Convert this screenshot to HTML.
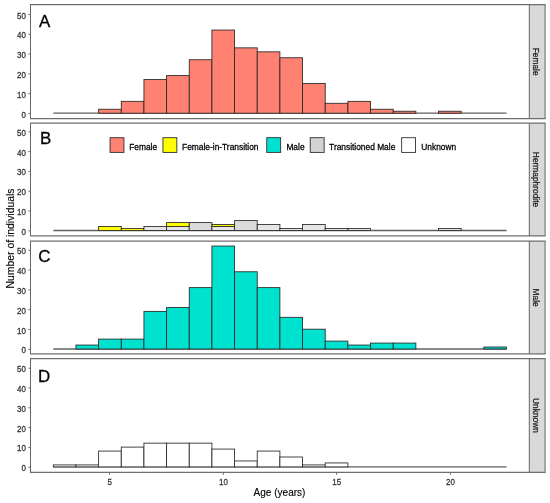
<!DOCTYPE html>
<html lang="en"><head><meta charset="utf-8"><title>Age distribution by sex</title>
<style>html,body{margin:0;padding:0;background:#fff}svg{display:block}</style></head>
<body>
<svg width="550" height="503" viewBox="0 0 550 503" font-family="'Liberation Sans', Arial, sans-serif">
<rect width="550" height="503" fill="#fff"/>
<line x1="53.30" x2="506.50" y1="113.2" y2="113.2" stroke="#606060" stroke-width="1.3"/>
<rect x="98.62" y="109.24" width="22.66" height="3.96" fill="#FF8172" stroke="#262626" stroke-width="0.85"/>
<rect x="121.28" y="101.32" width="22.66" height="11.88" fill="#FF8172" stroke="#262626" stroke-width="0.85"/>
<rect x="143.94" y="79.54" width="22.66" height="33.66" fill="#FF8172" stroke="#262626" stroke-width="0.85"/>
<rect x="166.60" y="75.58" width="22.66" height="37.62" fill="#FF8172" stroke="#262626" stroke-width="0.85"/>
<rect x="189.26" y="59.74" width="22.66" height="53.46" fill="#FF8172" stroke="#262626" stroke-width="0.85"/>
<rect x="211.92" y="30.04" width="22.66" height="83.16" fill="#FF8172" stroke="#262626" stroke-width="0.85"/>
<rect x="234.58" y="47.86" width="22.66" height="65.34" fill="#FF8172" stroke="#262626" stroke-width="0.85"/>
<rect x="257.24" y="51.82" width="22.66" height="61.38" fill="#FF8172" stroke="#262626" stroke-width="0.85"/>
<rect x="279.90" y="57.76" width="22.66" height="55.44" fill="#FF8172" stroke="#262626" stroke-width="0.85"/>
<rect x="302.56" y="83.50" width="22.66" height="29.70" fill="#FF8172" stroke="#262626" stroke-width="0.85"/>
<rect x="325.22" y="103.30" width="22.66" height="9.90" fill="#FF8172" stroke="#262626" stroke-width="0.85"/>
<rect x="347.88" y="101.32" width="22.66" height="11.88" fill="#FF8172" stroke="#262626" stroke-width="0.85"/>
<rect x="370.54" y="109.24" width="22.66" height="3.96" fill="#FF8172" stroke="#262626" stroke-width="0.85"/>
<rect x="393.20" y="111.22" width="22.66" height="1.98" fill="#FF8172" stroke="#262626" stroke-width="0.85"/>
<rect x="438.52" y="111.22" width="22.66" height="1.98" fill="#FF8172" stroke="#262626" stroke-width="0.85"/>
<rect x="529.3" y="4.7" width="15.80" height="113.90" fill="#D9D9D9"/>
<line x1="30.0" x2="545.6" y1="4.7" y2="4.7" stroke="#6e6e6e" stroke-width="1.3"/>
<line x1="30.0" x2="545.6" y1="118.6" y2="118.6" stroke="#6e6e6e" stroke-width="1.3"/>
<line x1="30.5" x2="30.5" y1="4.7" y2="118.6" stroke="#666" stroke-width="1"/>
<line x1="529.3" x2="529.3" y1="4.7" y2="118.6" stroke="#666" stroke-width="1"/>
<line x1="545.1" x2="545.1" y1="4.7" y2="118.6" stroke="#666" stroke-width="1"/>
<text transform="translate(533.00,61.65) rotate(90) scale(0.872,1)" text-anchor="middle" font-size="9.6" fill="#1a1a1a" stroke="#1a1a1a" stroke-width="0.25">Female</text>
<line x1="28.4" x2="30.5" y1="113.50" y2="113.50" stroke="#6e6e6e" stroke-width="1"/>
<text transform="translate(26.00,117.50) rotate(0) scale(0.84,1)" text-anchor="end" font-size="9.5" fill="#333" stroke="#333" stroke-width="0.3">0</text>
<line x1="28.4" x2="30.5" y1="93.70" y2="93.70" stroke="#6e6e6e" stroke-width="1"/>
<text transform="translate(26.00,97.70) rotate(0) scale(0.84,1)" text-anchor="end" font-size="9.5" fill="#333" stroke="#333" stroke-width="0.3">10</text>
<line x1="28.4" x2="30.5" y1="73.90" y2="73.90" stroke="#6e6e6e" stroke-width="1"/>
<text transform="translate(26.00,77.90) rotate(0) scale(0.84,1)" text-anchor="end" font-size="9.5" fill="#333" stroke="#333" stroke-width="0.3">20</text>
<line x1="28.4" x2="30.5" y1="54.10" y2="54.10" stroke="#6e6e6e" stroke-width="1"/>
<text transform="translate(26.00,58.10) rotate(0) scale(0.84,1)" text-anchor="end" font-size="9.5" fill="#333" stroke="#333" stroke-width="0.3">30</text>
<line x1="28.4" x2="30.5" y1="34.30" y2="34.30" stroke="#6e6e6e" stroke-width="1"/>
<text transform="translate(26.00,38.30) rotate(0) scale(0.84,1)" text-anchor="end" font-size="9.5" fill="#333" stroke="#333" stroke-width="0.3">40</text>
<line x1="28.4" x2="30.5" y1="14.50" y2="14.50" stroke="#6e6e6e" stroke-width="1"/>
<text transform="translate(26.00,18.50) rotate(0) scale(0.84,1)" text-anchor="end" font-size="9.5" fill="#333" stroke="#333" stroke-width="0.3">50</text>
<text transform="translate(38.90,27.00) rotate(0) scale(1,1)" text-anchor="start" font-size="16.9" fill="#000" stroke="#000" stroke-width="0.3">A</text>
<line x1="53.30" x2="506.50" y1="230.5" y2="230.5" stroke="#606060" stroke-width="1.3"/>
<rect x="98.62" y="226.54" width="22.66" height="3.96" fill="#FFFF00" stroke="#262626" stroke-width="0.85"/>
<rect x="121.28" y="228.52" width="22.66" height="1.98" fill="#FFFF00" stroke="#262626" stroke-width="0.85"/>
<rect x="143.94" y="226.54" width="22.66" height="3.96" fill="#E6E6E6" stroke="#262626" stroke-width="0.85"/>
<rect x="166.60" y="226.54" width="22.66" height="3.96" fill="#E6E6E6" stroke="#262626" stroke-width="0.85"/>
<rect x="166.60" y="222.58" width="22.66" height="3.96" fill="#FFFF00" stroke="#262626" stroke-width="0.85"/>
<rect x="189.26" y="222.58" width="22.66" height="7.92" fill="#DADADA" stroke="#262626" stroke-width="0.85"/>
<rect x="211.92" y="226.54" width="22.66" height="3.96" fill="#E6E6E6" stroke="#262626" stroke-width="0.85"/>
<rect x="211.92" y="224.56" width="22.66" height="1.98" fill="#FFFF00" stroke="#262626" stroke-width="0.85"/>
<rect x="234.58" y="220.60" width="22.66" height="9.90" fill="#DADADA" stroke="#262626" stroke-width="0.85"/>
<rect x="257.24" y="224.56" width="22.66" height="5.94" fill="#E6E6E6" stroke="#262626" stroke-width="0.85"/>
<rect x="279.90" y="228.52" width="22.66" height="1.98" fill="#E6E6E6" stroke="#262626" stroke-width="0.85"/>
<rect x="302.56" y="224.56" width="22.66" height="5.94" fill="#E6E6E6" stroke="#262626" stroke-width="0.85"/>
<rect x="325.22" y="228.52" width="22.66" height="1.98" fill="#E6E6E6" stroke="#262626" stroke-width="0.85"/>
<rect x="347.88" y="228.52" width="22.66" height="1.98" fill="#E6E6E6" stroke="#262626" stroke-width="0.85"/>
<rect x="438.52" y="228.52" width="22.66" height="1.98" fill="#E6E6E6" stroke="#262626" stroke-width="0.85"/>
<rect x="529.3" y="123.1" width="15.80" height="112.80" fill="#D9D9D9"/>
<line x1="30.0" x2="545.6" y1="123.1" y2="123.1" stroke="#6e6e6e" stroke-width="1.3"/>
<line x1="30.0" x2="545.6" y1="235.9" y2="235.9" stroke="#6e6e6e" stroke-width="1.3"/>
<line x1="30.5" x2="30.5" y1="123.1" y2="235.9" stroke="#666" stroke-width="1"/>
<line x1="529.3" x2="529.3" y1="123.1" y2="235.9" stroke="#666" stroke-width="1"/>
<line x1="545.1" x2="545.1" y1="123.1" y2="235.9" stroke="#666" stroke-width="1"/>
<text transform="translate(533.00,179.50) rotate(90) scale(0.872,1)" text-anchor="middle" font-size="9.6" fill="#1a1a1a" stroke="#1a1a1a" stroke-width="0.25">Hermaphrodite</text>
<line x1="28.4" x2="30.5" y1="230.80" y2="230.80" stroke="#6e6e6e" stroke-width="1"/>
<text transform="translate(26.00,234.80) rotate(0) scale(0.84,1)" text-anchor="end" font-size="9.5" fill="#333" stroke="#333" stroke-width="0.3">0</text>
<line x1="28.4" x2="30.5" y1="211.00" y2="211.00" stroke="#6e6e6e" stroke-width="1"/>
<text transform="translate(26.00,215.00) rotate(0) scale(0.84,1)" text-anchor="end" font-size="9.5" fill="#333" stroke="#333" stroke-width="0.3">10</text>
<line x1="28.4" x2="30.5" y1="191.20" y2="191.20" stroke="#6e6e6e" stroke-width="1"/>
<text transform="translate(26.00,195.20) rotate(0) scale(0.84,1)" text-anchor="end" font-size="9.5" fill="#333" stroke="#333" stroke-width="0.3">20</text>
<line x1="28.4" x2="30.5" y1="171.40" y2="171.40" stroke="#6e6e6e" stroke-width="1"/>
<text transform="translate(26.00,175.40) rotate(0) scale(0.84,1)" text-anchor="end" font-size="9.5" fill="#333" stroke="#333" stroke-width="0.3">30</text>
<line x1="28.4" x2="30.5" y1="151.60" y2="151.60" stroke="#6e6e6e" stroke-width="1"/>
<text transform="translate(26.00,155.60) rotate(0) scale(0.84,1)" text-anchor="end" font-size="9.5" fill="#333" stroke="#333" stroke-width="0.3">40</text>
<line x1="28.4" x2="30.5" y1="131.80" y2="131.80" stroke="#6e6e6e" stroke-width="1"/>
<text transform="translate(26.00,135.80) rotate(0) scale(0.84,1)" text-anchor="end" font-size="9.5" fill="#333" stroke="#333" stroke-width="0.3">50</text>
<text transform="translate(39.90,143.90) rotate(0) scale(1,1)" text-anchor="start" font-size="16.9" fill="#000" stroke="#000" stroke-width="0.3">B</text>
<line x1="53.30" x2="506.50" y1="349.0" y2="349.0" stroke="#606060" stroke-width="1.3"/>
<rect x="75.96" y="345.04" width="22.66" height="3.96" fill="#00E2D0" stroke="#262626" stroke-width="0.85"/>
<rect x="98.62" y="339.10" width="22.66" height="9.90" fill="#00E2D0" stroke="#262626" stroke-width="0.85"/>
<rect x="121.28" y="339.10" width="22.66" height="9.90" fill="#00E2D0" stroke="#262626" stroke-width="0.85"/>
<rect x="143.94" y="311.38" width="22.66" height="37.62" fill="#00E2D0" stroke="#262626" stroke-width="0.85"/>
<rect x="166.60" y="307.42" width="22.66" height="41.58" fill="#00E2D0" stroke="#262626" stroke-width="0.85"/>
<rect x="189.26" y="287.62" width="22.66" height="61.38" fill="#00E2D0" stroke="#262626" stroke-width="0.85"/>
<rect x="211.92" y="246.04" width="22.66" height="102.96" fill="#00E2D0" stroke="#262626" stroke-width="0.85"/>
<rect x="234.58" y="271.78" width="22.66" height="77.22" fill="#00E2D0" stroke="#262626" stroke-width="0.85"/>
<rect x="257.24" y="287.62" width="22.66" height="61.38" fill="#00E2D0" stroke="#262626" stroke-width="0.85"/>
<rect x="279.90" y="317.32" width="22.66" height="31.68" fill="#00E2D0" stroke="#262626" stroke-width="0.85"/>
<rect x="302.56" y="329.20" width="22.66" height="19.80" fill="#00E2D0" stroke="#262626" stroke-width="0.85"/>
<rect x="325.22" y="341.08" width="22.66" height="7.92" fill="#00E2D0" stroke="#262626" stroke-width="0.85"/>
<rect x="347.88" y="345.04" width="22.66" height="3.96" fill="#00E2D0" stroke="#262626" stroke-width="0.85"/>
<rect x="370.54" y="343.06" width="22.66" height="5.94" fill="#00E2D0" stroke="#262626" stroke-width="0.85"/>
<rect x="393.20" y="343.06" width="22.66" height="5.94" fill="#00E2D0" stroke="#262626" stroke-width="0.85"/>
<rect x="483.84" y="347.02" width="22.66" height="1.98" fill="#00E2D0" stroke="#262626" stroke-width="0.85"/>
<rect x="529.3" y="241.2" width="15.80" height="112.75" fill="#D9D9D9"/>
<line x1="30.0" x2="545.6" y1="241.2" y2="241.2" stroke="#6e6e6e" stroke-width="1.3"/>
<line x1="30.0" x2="545.6" y1="353.95" y2="353.95" stroke="#6e6e6e" stroke-width="1.3"/>
<line x1="30.5" x2="30.5" y1="241.2" y2="353.95" stroke="#666" stroke-width="1"/>
<line x1="529.3" x2="529.3" y1="241.2" y2="353.95" stroke="#666" stroke-width="1"/>
<line x1="545.1" x2="545.1" y1="241.2" y2="353.95" stroke="#666" stroke-width="1"/>
<text transform="translate(533.00,297.57) rotate(90) scale(0.872,1)" text-anchor="middle" font-size="9.6" fill="#1a1a1a" stroke="#1a1a1a" stroke-width="0.25">Male</text>
<line x1="28.4" x2="30.5" y1="349.30" y2="349.30" stroke="#6e6e6e" stroke-width="1"/>
<text transform="translate(26.00,353.30) rotate(0) scale(0.84,1)" text-anchor="end" font-size="9.5" fill="#333" stroke="#333" stroke-width="0.3">0</text>
<line x1="28.4" x2="30.5" y1="329.50" y2="329.50" stroke="#6e6e6e" stroke-width="1"/>
<text transform="translate(26.00,333.50) rotate(0) scale(0.84,1)" text-anchor="end" font-size="9.5" fill="#333" stroke="#333" stroke-width="0.3">10</text>
<line x1="28.4" x2="30.5" y1="309.70" y2="309.70" stroke="#6e6e6e" stroke-width="1"/>
<text transform="translate(26.00,313.70) rotate(0) scale(0.84,1)" text-anchor="end" font-size="9.5" fill="#333" stroke="#333" stroke-width="0.3">20</text>
<line x1="28.4" x2="30.5" y1="289.90" y2="289.90" stroke="#6e6e6e" stroke-width="1"/>
<text transform="translate(26.00,293.90) rotate(0) scale(0.84,1)" text-anchor="end" font-size="9.5" fill="#333" stroke="#333" stroke-width="0.3">30</text>
<line x1="28.4" x2="30.5" y1="270.10" y2="270.10" stroke="#6e6e6e" stroke-width="1"/>
<text transform="translate(26.00,274.10) rotate(0) scale(0.84,1)" text-anchor="end" font-size="9.5" fill="#333" stroke="#333" stroke-width="0.3">40</text>
<line x1="28.4" x2="30.5" y1="250.30" y2="250.30" stroke="#6e6e6e" stroke-width="1"/>
<text transform="translate(26.00,254.30) rotate(0) scale(0.84,1)" text-anchor="end" font-size="9.5" fill="#333" stroke="#333" stroke-width="0.3">50</text>
<text transform="translate(38.35,261.70) rotate(0) scale(1,1)" text-anchor="start" font-size="16.9" fill="#000" stroke="#000" stroke-width="0.3">C</text>
<line x1="53.30" x2="506.50" y1="466.9" y2="466.9" stroke="#606060" stroke-width="1.3"/>
<rect x="53.30" y="464.92" width="22.66" height="1.98" fill="#FFFFFF" stroke="#262626" stroke-width="0.85"/>
<rect x="75.96" y="464.92" width="22.66" height="1.98" fill="#FFFFFF" stroke="#262626" stroke-width="0.85"/>
<rect x="98.62" y="451.06" width="22.66" height="15.84" fill="#FFFFFF" stroke="#262626" stroke-width="0.85"/>
<rect x="121.28" y="447.10" width="22.66" height="19.80" fill="#FFFFFF" stroke="#262626" stroke-width="0.85"/>
<rect x="143.94" y="443.14" width="22.66" height="23.76" fill="#FFFFFF" stroke="#262626" stroke-width="0.85"/>
<rect x="166.60" y="443.14" width="22.66" height="23.76" fill="#FFFFFF" stroke="#262626" stroke-width="0.85"/>
<rect x="189.26" y="443.14" width="22.66" height="23.76" fill="#FFFFFF" stroke="#262626" stroke-width="0.85"/>
<rect x="211.92" y="449.08" width="22.66" height="17.82" fill="#FFFFFF" stroke="#262626" stroke-width="0.85"/>
<rect x="234.58" y="460.96" width="22.66" height="5.94" fill="#FFFFFF" stroke="#262626" stroke-width="0.85"/>
<rect x="257.24" y="451.06" width="22.66" height="15.84" fill="#FFFFFF" stroke="#262626" stroke-width="0.85"/>
<rect x="279.90" y="457.00" width="22.66" height="9.90" fill="#FFFFFF" stroke="#262626" stroke-width="0.85"/>
<rect x="302.56" y="464.92" width="22.66" height="1.98" fill="#FFFFFF" stroke="#262626" stroke-width="0.85"/>
<rect x="325.22" y="462.94" width="22.66" height="3.96" fill="#FFFFFF" stroke="#262626" stroke-width="0.85"/>
<rect x="529.3" y="358.6" width="15.80" height="113.70" fill="#D9D9D9"/>
<line x1="30.0" x2="545.6" y1="358.6" y2="358.6" stroke="#6e6e6e" stroke-width="1.3"/>
<line x1="30.0" x2="545.6" y1="472.3" y2="472.3" stroke="#6e6e6e" stroke-width="1.3"/>
<line x1="30.5" x2="30.5" y1="358.6" y2="472.3" stroke="#666" stroke-width="1"/>
<line x1="529.3" x2="529.3" y1="358.6" y2="472.3" stroke="#666" stroke-width="1"/>
<line x1="545.1" x2="545.1" y1="358.6" y2="472.3" stroke="#666" stroke-width="1"/>
<text transform="translate(533.00,415.45) rotate(90) scale(0.872,1)" text-anchor="middle" font-size="9.6" fill="#1a1a1a" stroke="#1a1a1a" stroke-width="0.25">Unknown</text>
<line x1="28.4" x2="30.5" y1="467.20" y2="467.20" stroke="#6e6e6e" stroke-width="1"/>
<text transform="translate(26.00,471.20) rotate(0) scale(0.84,1)" text-anchor="end" font-size="9.5" fill="#333" stroke="#333" stroke-width="0.3">0</text>
<line x1="28.4" x2="30.5" y1="447.40" y2="447.40" stroke="#6e6e6e" stroke-width="1"/>
<text transform="translate(26.00,451.40) rotate(0) scale(0.84,1)" text-anchor="end" font-size="9.5" fill="#333" stroke="#333" stroke-width="0.3">10</text>
<line x1="28.4" x2="30.5" y1="427.60" y2="427.60" stroke="#6e6e6e" stroke-width="1"/>
<text transform="translate(26.00,431.60) rotate(0) scale(0.84,1)" text-anchor="end" font-size="9.5" fill="#333" stroke="#333" stroke-width="0.3">20</text>
<line x1="28.4" x2="30.5" y1="407.80" y2="407.80" stroke="#6e6e6e" stroke-width="1"/>
<text transform="translate(26.00,411.80) rotate(0) scale(0.84,1)" text-anchor="end" font-size="9.5" fill="#333" stroke="#333" stroke-width="0.3">30</text>
<line x1="28.4" x2="30.5" y1="388.00" y2="388.00" stroke="#6e6e6e" stroke-width="1"/>
<text transform="translate(26.00,392.00) rotate(0) scale(0.84,1)" text-anchor="end" font-size="9.5" fill="#333" stroke="#333" stroke-width="0.3">40</text>
<line x1="28.4" x2="30.5" y1="368.20" y2="368.20" stroke="#6e6e6e" stroke-width="1"/>
<text transform="translate(26.00,372.20) rotate(0) scale(0.84,1)" text-anchor="end" font-size="9.5" fill="#333" stroke="#333" stroke-width="0.3">50</text>
<text transform="translate(38.00,381.60) rotate(0) scale(1,1)" text-anchor="start" font-size="16.9" fill="#000" stroke="#000" stroke-width="0.3">D</text>
<line x1="109.50" x2="109.50" y1="472.3" y2="474.90000000000003" stroke="#6e6e6e" stroke-width="1"/>
<text transform="translate(109.60,485.00) rotate(0) scale(0.84,1)" text-anchor="middle" font-size="9.5" fill="#333" stroke="#333" stroke-width="0.25">5</text>
<line x1="223.30" x2="223.30" y1="472.3" y2="474.90000000000003" stroke="#6e6e6e" stroke-width="1"/>
<text transform="translate(223.40,485.00) rotate(0) scale(0.84,1)" text-anchor="middle" font-size="9.5" fill="#333" stroke="#333" stroke-width="0.25">10</text>
<line x1="336.60" x2="336.60" y1="472.3" y2="474.90000000000003" stroke="#6e6e6e" stroke-width="1"/>
<text transform="translate(336.70,485.00) rotate(0) scale(0.84,1)" text-anchor="middle" font-size="9.5" fill="#333" stroke="#333" stroke-width="0.25">15</text>
<line x1="450.40" x2="450.40" y1="472.3" y2="474.90000000000003" stroke="#6e6e6e" stroke-width="1"/>
<text transform="translate(450.50,485.00) rotate(0) scale(0.84,1)" text-anchor="middle" font-size="9.5" fill="#333" stroke="#333" stroke-width="0.25">20</text>
<text transform="translate(279.50,496.30) rotate(0) scale(0.985,1)" text-anchor="middle" font-size="10.2" fill="#000" stroke="#000" stroke-width="0.12">Age (years)</text>
<text transform="translate(13.60,238.50) rotate(-90) scale(1.02,1)" text-anchor="middle" font-size="10.2" fill="#000" stroke="#000" stroke-width="0.12">Number of individuals</text>
<rect x="110.05" y="137.7" width="13.9" height="14.7" fill="#FF8172" stroke="#2e2e2e" stroke-width="0.9"/>
<text transform="translate(129.20,149.50) rotate(0) scale(0.872,1)" text-anchor="start" font-size="9.6" fill="#000" stroke="#000" stroke-width="0.3">Female</text>
<rect x="162.95" y="137.7" width="13.9" height="14.7" fill="#FFFF00" stroke="#2e2e2e" stroke-width="0.9"/>
<text transform="translate(182.10,149.50) rotate(0) scale(0.872,1)" text-anchor="start" font-size="9.6" fill="#000" stroke="#000" stroke-width="0.3">Female-in-Transition</text>
<rect x="266.75" y="137.7" width="13.9" height="14.7" fill="#00E2D0" stroke="#2e2e2e" stroke-width="0.9"/>
<text transform="translate(286.40,149.50) rotate(0) scale(0.872,1)" text-anchor="start" font-size="9.6" fill="#000" stroke="#000" stroke-width="0.3">Male</text>
<rect x="310.25" y="137.7" width="13.9" height="14.7" fill="#D3D3D3" stroke="#2e2e2e" stroke-width="0.9"/>
<text transform="translate(329.10,149.50) rotate(0) scale(0.872,1)" text-anchor="start" font-size="9.6" fill="#000" stroke="#000" stroke-width="0.3">Transitioned Male</text>
<rect x="401.65" y="137.7" width="13.9" height="14.7" fill="#FFFFFF" stroke="#2e2e2e" stroke-width="0.9"/>
<text transform="translate(421.30,149.50) rotate(0) scale(0.872,1)" text-anchor="start" font-size="9.6" fill="#000" stroke="#000" stroke-width="0.3">Unknown</text>
</svg>
</body></html>
